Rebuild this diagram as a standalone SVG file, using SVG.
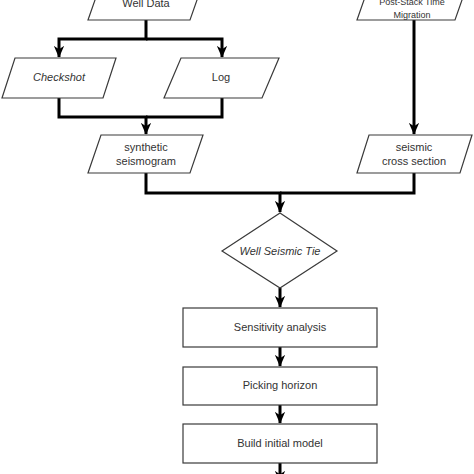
<svg xmlns="http://www.w3.org/2000/svg" width="474" height="474" viewBox="0 0 474 474">
<style>
.shape{fill:#fff;stroke:#3a3a3a;stroke-width:1.2}
.conn{fill:none;stroke:#000;stroke-width:3}
.t{font-family:"Liberation Sans",Arial,sans-serif;font-size:11px;fill:#333;text-anchor:middle}
.s{font-size:9px}
.i{font-style:italic}
</style>
<defs>
<marker id="arr" markerUnits="userSpaceOnUse" markerWidth="12" markerHeight="14" viewBox="0 0 14 12" refX="13" refY="6" orient="auto">
<path d="M0,0 L14,6 L0,12 L4,6 Z" fill="#000"/>
</marker>
</defs>
<rect width="474" height="474" fill="#fff"/>
<g id="connectors">
<path class="conn" d="M146,20 V39 H59 V57" marker-end="url(#arr)"/>
<path class="conn" d="M146,39 H222 V57" marker-end="url(#arr)"/>
<path class="conn" d="M59,98 V117 H146 V134" marker-end="url(#arr)"/>
<path class="conn" d="M222,98 V117 H146"/>
<path class="conn" d="M414,20 V134" marker-end="url(#arr)"/>
<path class="conn" d="M146,173 V193 H280 V212" marker-end="url(#arr)"/>
<path class="conn" d="M414,173 V193 H280"/>
<path class="conn" d="M280,288 V307" marker-end="url(#arr)"/>
<path class="conn" d="M280,347 V366" marker-end="url(#arr)"/>
<path class="conn" d="M280,405 V423" marker-end="url(#arr)"/>
<path class="conn" d="M280,463 V482" marker-end="url(#arr)"/>
</g>
<g id="well-data">
<polygon class="shape" points="102,-20 204,-20 190,20 88,20"/>
<text class="t" x="146" y="7">Well Data</text>
</g>
<g id="pstm">
<polygon class="shape" points="371,-20 469,-20 455,20 357,20"/>
<text class="t s" x="412" y="5">Post-Stack Time</text>
<text class="t s" x="412" y="18">Migration</text>
</g>
<g id="checkshot">
<polygon class="shape" points="15,58 116,58 103,98 2,98"/>
<text class="t i" x="59" y="81">Checkshot</text>
</g>
<g id="log">
<polygon class="shape" points="181,58 279,58 262,98 164,98"/>
<text class="t" x="221" y="81">Log</text>
</g>
<g id="synthetic">
<polygon class="shape" points="101,135 203,135 190,173 88,173"/>
<text class="t" x="146" y="151">synthetic</text>
<text class="t" x="146" y="165">seismogram</text>
</g>
<g id="seismic">
<polygon class="shape" points="369,135 472,135 460,173 357,173"/>
<text class="t" x="414" y="151">seismic</text>
<text class="t" x="414" y="165">cross section</text>
</g>
<g id="well-seismic-tie">
<polygon class="shape" points="280,213 337,251 280,288 222,251"/>
<text class="t i" x="280" y="255">Well Seismic Tie</text>
</g>
<g id="sensitivity">
<rect class="shape" x="183" y="308" width="194" height="39"/>
<text class="t" x="280" y="331">Sensitivity analysis</text>
</g>
<g id="picking">
<rect class="shape" x="183" y="367" width="194" height="38"/>
<text class="t" x="280" y="389">Picking horizon</text>
</g>
<g id="build">
<rect class="shape" x="183" y="424" width="194" height="39"/>
<text class="t" x="280" y="447">Build initial model</text>
</g>
</svg>
